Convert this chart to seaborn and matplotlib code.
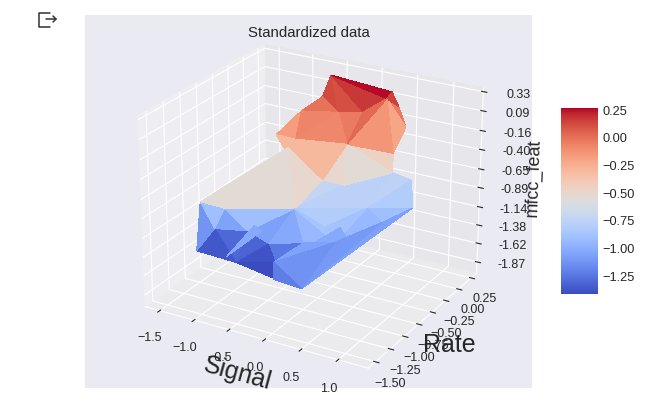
"""
Standardized data: trisurf of mfcc_feat over Signal and Rate
"""
import matplotlib
matplotlib.use("Agg")
import matplotlib.pyplot as plt
from matplotlib.lines import Line2D
from matplotlib.patches import Rectangle
import seaborn as sns

sns.set_style("darkgrid")
plt.rcParams["font.family"] = ["Liberation Sans", "DejaVu Sans"]

# values
signal = [-0.49, 0.34, 0.33, 0.04, -0.22, -0.59, 0.34, 0.37, -0.91, -0.71,
          -0.43, 0.25, -0.74, -0.12, 0.40, 0.40, 0.77, 0.95, -1.20, -0.84,
          -0.31, -1.28, -1.19, -0.80, -0.80, -0.255, 0.463, -0.44, 0.13, 0.50,
          0.58, 0.72, -0.11, 0.05, -0.256, 0.103, 0.04, -0.70, -0.454, -0.295,
          0.01, 0.462, 0.59, 0.353]
rate = [0.065, 0.105, 0.025, -0.025, -0.135, 0.035, 0.235, 0.335, -0.375, -0.185,
        -0.605, -0.565, -0.415, -0.535, 0.065, 0.063, -0.075, -0.295, -1.275, -1.285,
        -0.875, -1.265, -1.075, -1.165, -0.975, -1.145, -1.566, -1.035, -1.135, -1.065,
        -0.625, -0.535, -1.005, -0.397, -1.128, -1.592, -1.512, -1.417, -1.254, -1.315,
        -1.291, -0.928, -1.002, -1.06]
mfcc = [0.33, 0.25, 0.20, 0.00, 0.00, 0.05, 0.00, -0.30, -0.30, -0.05,
        -0.15, -0.10, -0.45, -0.65, -0.50, -0.75, -0.70, -0.90, -0.75, -0.75,
        -0.10, -1.40, -1.20, -1.50, -1.20, -1.60, -1.30, -1.25, -1.05, -1.00,
        -0.80, -1.00, -0.75, -0.75, -1.40, -1.25, -1.10, -1.25, -0.90, -0.90,
        -1.20, -0.90, -0.95, -0.85]
facets = [(0, 1, 2), (0, 2, 3), (0, 3, 4), (5, 0, 4), (1, 6, 2), (6, 7, 2), (3, 2, 11),
          (2, 7, 14), (2, 14, 11), (4, 3, 11), (4, 11, 10), (9, 4, 10), (5, 4, 9),
          (8, 9, 10), (8, 10, 12), (8, 5, 9), (12, 10, 20), (20, 10, 13), (10, 11, 13),
          (11, 14, 15), (13, 11, 33), (11, 15, 33), (18, 19, 20), (19, 32, 20), (20, 13, 32),
          (13, 33, 32), (33, 30, 32), (33, 15, 30), (15, 16, 30), (16, 17, 30), (17, 31, 30),
          (32, 30, 43), (32, 43, 29), (43, 30, 29), (30, 31, 29), (32, 29, 28), (19, 24, 32),
          (24, 27, 32), (27, 28, 32), (18, 22, 19), (19, 22, 24), (18, 21, 22), (21, 23, 22),
          (22, 23, 24), (23, 27, 24), (23, 34, 27), (23, 25, 34), (27, 34, 28), (36, 28, 29),
          (36, 35, 26), (36, 26, 29), (26, 31, 29), (26, 17, 31), (37, 38, 39), (40, 41, 42)]

signal_ticks = [-1.5, -1.0, -0.5, 0.0, 0.5, 1.0]
rate_ticks = [-1.50, -1.25, -1.00, -0.75, -0.50, -0.25, 0.00, 0.25]
mfcc_ticks = [-1.87, -1.62, -1.38, -1.14, -0.89, -0.65, -0.40, -0.16, 0.09, 0.33]
cbar_ticks = [-1.25, -1.00, -0.75, -0.50, -0.25, 0.00, 0.25]

W, H = 665, 394
fig = plt.figure(figsize=(W / 100, H / 100), dpi=100)
fig.add_artist(Rectangle((85 / W, 1 - 388 / H), 447 / W, 373 / H, transform=fig.transFigure,
                         facecolor="#EAEAF2", edgecolor="none", zorder=-1))

ax = fig.add_axes([122 / W, 5 / H, 373 / W, 373 / H], projection="3d")
ax.set_facecolor("none")
ax.view_init(elev=24, azim=-60)
ax.set_box_aspect((4.34, 4, 3.5), zoom=1.05)
surf = ax.plot_trisurf(signal, rate, mfcc, triangles=facets,
                       cmap=sns.color_palette("coolwarm", as_cmap=True),
                       vmin=-1.41, vmax=0.27, linewidth=0, edgecolor="none", antialiased=False)

ax.set_xlim(-1.72, 1.40)
ax.set_ylim(-1.62, 0.36)
ax.set_zlim(-2.02, 0.38)
ax.set_xticks(signal_ticks)
ax.set_yticks(rate_ticks)
ax.set_zticks(mfcc_ticks)
ax.set_zticklabels([f"{t:.2f}" for t in mfcc_ticks])
ax.tick_params(labelsize=9, pad=1)
ax.tick_params(axis="x", pad=3)
ax.tick_params(axis="z", pad=7)
ax.set_xlabel("Signal", fontsize=18, labelpad=-3)
ax.set_ylabel("Rate", fontsize=18, labelpad=-6)
ax.set_zlabel("mfcc_feat", fontsize=13, labelpad=2)
fig.suptitle("Standardized data", x=309 / W, y=1 - 26 / H, fontsize=10.8, color=".15")

cax = fig.add_axes([561 / W, 1 - 294 / H, 37 / W, 186 / H])
cbar = fig.colorbar(surf, cax=cax)
cbar.set_ticks(cbar_ticks)
cbar.ax.tick_params(labelsize=9.2, length=0)
cbar.outline.set_visible(False)

# output icon left of the chart
ic = dict(color="#333333", lw=1.1, transform=fig.transFigure)
for xs, ys in [([50, 39, 39, 50], [13, 13, 27, 27]), ([46, 56], [19, 19]),
               ([53, 56, 53], [16, 19, 22])]:
    fig.add_artist(Line2D([v / W for v in xs], [1 - v / H for v in ys], **ic))

plt.savefig("out.png", dpi=100)
plt.close()
